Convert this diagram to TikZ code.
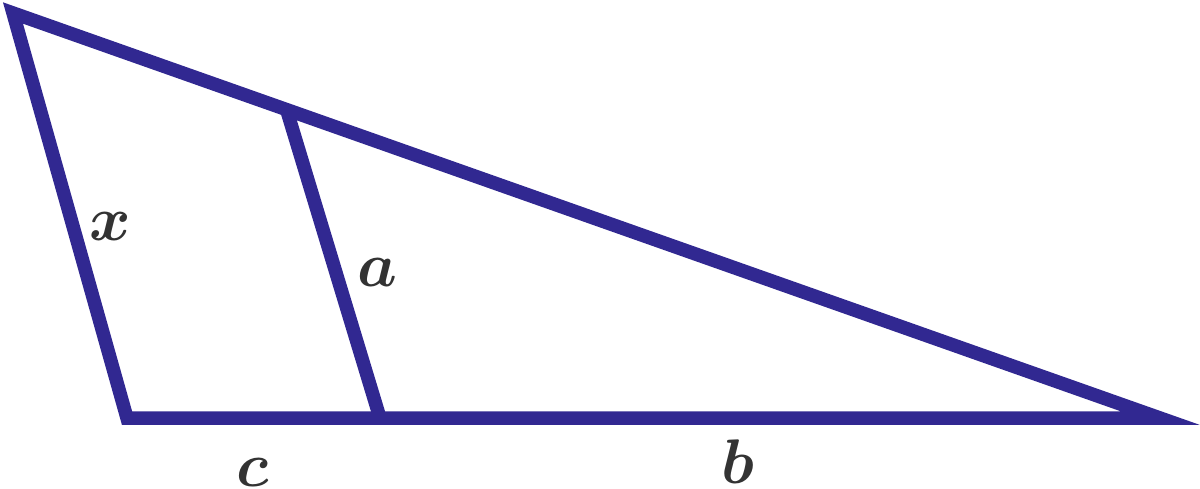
\documentclass[tikz,border=0pt]{standalone}
\usepackage{bm}
\usepackage{tikz}
\usetikzlibrary{positioning}
\definecolor{edgeblue}{RGB}{49,40,145}
\definecolor{labelgray}{RGB}{51,51,51}
\newcommand{\biglab}[1]{\scalebox{1.266}{\Huge$\bm{#1}$}}
\begin{document}
\begin{tikzpicture}[x=0.5pt,y=-0.5pt]
\tikzstyle{side}=[draw=edgeblue,line width=6.75pt,line join=miter]
\tikzstyle{lab}=[text=labelgray,inner sep=0pt]
\useasboundingbox (0,0) rectangle (1200,488);
\coordinate (top) at (13,13);
\coordinate (left) at (127,418);
\coordinate (right) at (1160,418);
\coordinate (foot) at (380,418);
\coordinate (head) at (286.5,109.3);
\draw[side] (top) -- (left) -- (right) -- cycle;
\draw[side] (head) -- (foot);
\node[lab] (lx) at (110.5,226) {\biglab{x}};
\node[lab] (la) at (377,272) {\biglab{a}};
\node[lab] (lc) at (253,472) {\biglab{c}};
\node[lab] (lb) at (737.5,462) {\biglab{b}};
\end{tikzpicture}
\end{document}
